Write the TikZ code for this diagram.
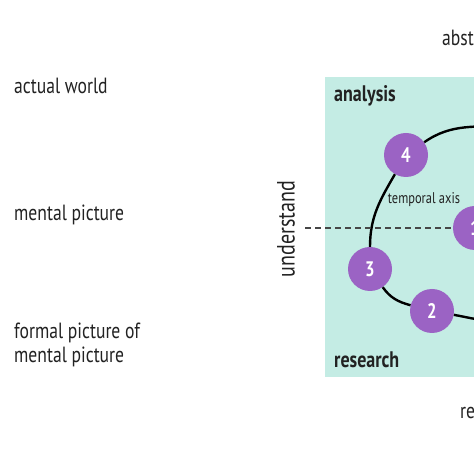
\documentclass[tikz,border=0pt]{standalone}
\usepackage{fontspec}
\setmainfont[FakeStretch=0.8]{PT Sans}
\definecolor{boxteal}{RGB}{196,236,228}
\definecolor{nodepurple}{RGB}{155,99,196}
\definecolor{txtgray}{RGB}{34,34,34}
\definecolor{dashgray}{RGB}{70,70,70}
\begin{document}
\begin{tikzpicture}[x=1pt,y=1pt,
  lbl/.style={anchor=west,inner sep=0pt,text=txtgray,font=\fontsize{22}{24}\selectfont,align=left},
  corner/.style={anchor=west,inner sep=0pt,text=txtgray,font=\fontsize{22.5}{24}\selectfont\bfseries},
  stepnum/.style={circle,fill=nodepurple,minimum size=44pt,inner sep=0pt,text=white,font=\fontsize{21}{24}\selectfont\bfseries},
  loopline/.style={line width=2.4pt,black},
  axisline/.style={dashgray,line width=1.1pt,dash pattern=on 6pt off 4pt}]
\useasboundingbox (0,0) rectangle (474,474);
\clip (0,0) rectangle (474,474);
\fill[white] (0,0) rectangle (474,474);
% teal panel
\fill[boxteal] (325,97) rectangle (520,397);
% side labels
\node[lbl] (actual) at (14,388) {actual world};
\node[lbl] (mental) at (14,259) {mental picture};
\node[lbl] (formal) at (14,129) {formal picture of\\mental picture};
\node[lbl,rotate=90,anchor=center,font=\fontsize{25}{28}\selectfont] (understand) at (286,245) {understand};
\node[lbl] (abstract) at (442,436) {abstract};
\node[lbl] (research2) at (460,61) {re};
% corner labels
\node[corner] (analysis) at (334,378) {analysis};
\node[corner] (research) at (334,114) {research};
\node[inner sep=0pt,text=txtgray,font=\fontsize{15.5}{18}\selectfont] (temporal) at (424,274) {temporal axis};
% nodes
\node[stepnum] (n4) at (406,319) {4};
\node[stepnum] (n3) at (370,205) {3};
\node[stepnum] (n2) at (432,163) {2};
\node[stepnum] (n1) at (475,246) {1};
\coordinate (topR) at (510,349);
\coordinate (botR) at (510,156);
\coordinate (dashstart) at (305,246);
% loop
\draw[loopline] (n4) to[out=35,in=185] (topR);
\draw[loopline] (n4) to[out=240,in=90] (n3);
\draw[loopline] (n3) to[out=-55,in=165] (n2);
\draw[loopline] (n2) to[out=-10,in=195] (botR);
% dashed axis
\draw[axisline] (dashstart) -- (n1);
\end{tikzpicture}
\end{document}
